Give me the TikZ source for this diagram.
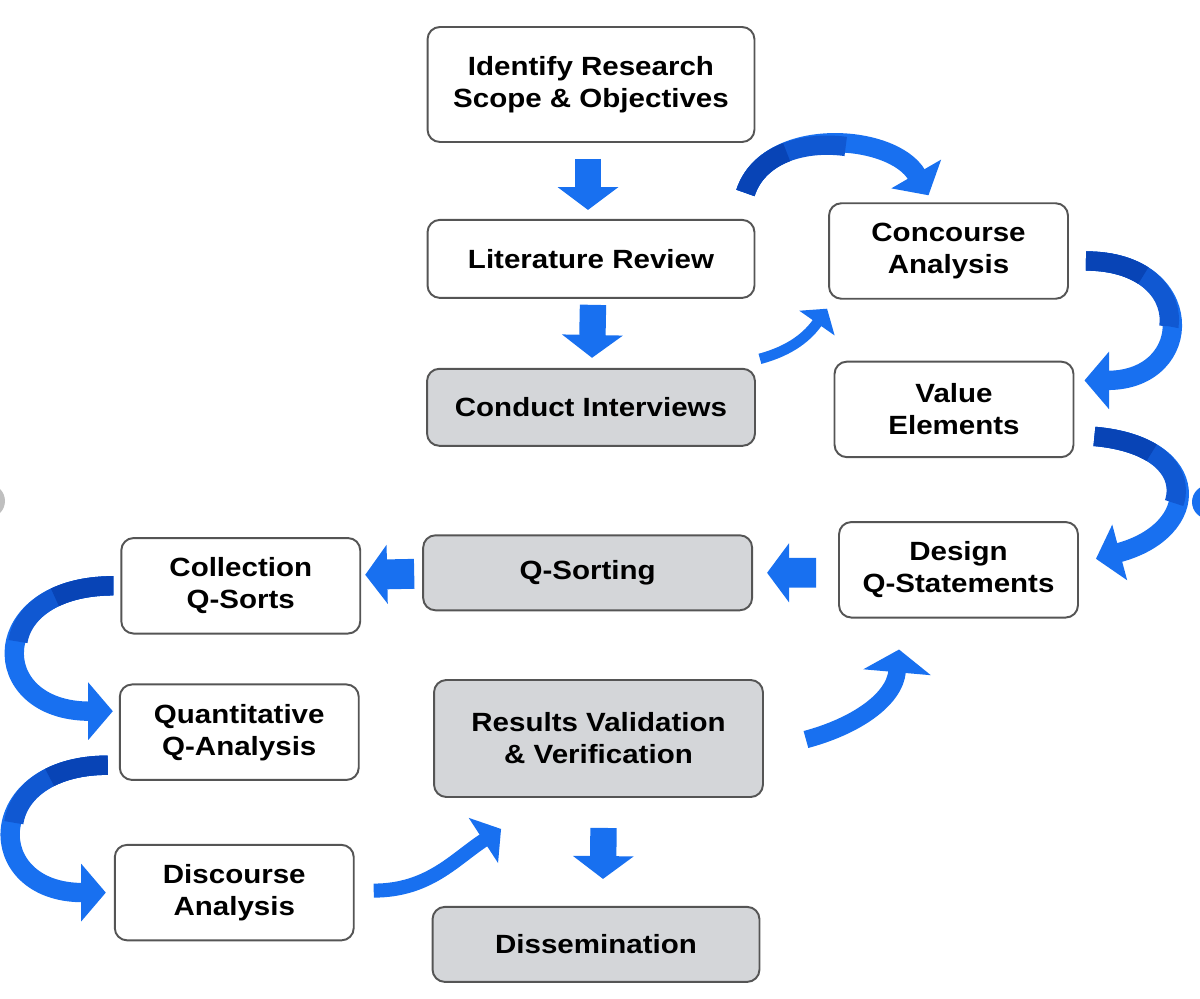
\documentclass[tikz,border=0pt]{standalone}
\usepackage{fontspec}
\setmainfont{Liberation Sans}[FakeStretch=1.12]
\usetikzlibrary{arrows.meta,positioning}
\definecolor{qblue}{RGB}{24,112,240}
\definecolor{qmid}{RGB}{16,88,210}
\definecolor{qdark}{RGB}{8,68,182}
\definecolor{qline}{RGB}{85,85,85}
\definecolor{qgrey}{RGB}{212,214,217}

\begin{document}
\begin{tikzpicture}[x=0.02cm, y=0.02cm,
    box/.style={draw=qline, line width=1.1pt, rounded corners=7pt, fill=white, align=center, inner sep=2pt,
        font=\fontsize{15}{18.2}\selectfont\bfseries},
    midbox/.style={box, minimum width=6.54cm},
    sidebox/.style={box, minimum width=4.78cm, minimum height=1.91cm},
    greybox/.style={fill=qgrey},
    dropar/.style={qblue, line width=15pt, -{Triangle[width=34pt, length=13pt]}},
    sidear/.style={qblue, line width=17pt, -{Triangle[width=33pt, length=12.5pt]}},
    swoop/.style={qblue, line width=10pt, -{Triangle[width=38pt, length=13pt]}},
    looparrow/.style={swoop, line width=11pt, -{Triangle[width=32pt, length=14pt]},
        postaction={draw=qmid, -, dash pattern=on 2.4cm off 40cm},
        postaction={draw=qdark, -, dash pattern=on 1.2cm off 40cm}}]
    \useasboundingbox (0,0) rectangle (1200,998);
    \fill[black!25] (-12,497) circle (17);
    \fill[qblue] (1209,496) circle (17);
    \node[midbox, minimum height=2.3cm] (idr) at (591,913.5) {Identify Research\\Scope \& Objectives};
    \node[midbox, minimum height=1.56cm, below=1.52cm of idr] (lit) {Literature Review};
    \node[midbox, greybox, minimum height=1.54cm, minimum width=6.56cm, below=1.38cm of lit] (cin) {Conduct Interviews};
    \node[sidebox] (con) at (948.5,747) {Concourse\\Analysis};
    \node[sidebox, below=1.22cm of con, xshift=0.11cm] (val) {Value\\Elements};
    \node[sidebox, below=1.26cm of val, xshift=0.09cm] (dqs) {Design\\Q-Statements};
    \node[midbox, greybox, minimum height=1.5cm, minimum width=6.58cm, left=1.7cm of dqs, yshift=-0.06cm] (qso) {Q-Sorting};
    \node[sidebox, left=1.22cm of qso, yshift=-0.26cm] (col) {Collection\\Q-Sorts};
    \node[sidebox, below=0.98cm of col, xshift=-0.03cm] (qan) {Quantitative\\Q-Analysis};
    \node[sidebox, below=1.26cm of qan, xshift=-0.1cm] (dis) {Discourse\\Analysis};
    \node[midbox, greybox, minimum height=2.34cm, minimum width=6.58cm] (rvv) at (598.5,259.5) {Results Validation\\\& Verification};
    \node[midbox, greybox, minimum height=1.5cm, below=2.16cm of rvv, xshift=-0.05cm] (dsm) {Dissemination};
    \draw[dropar] ([shift={(-3,-16)}]idr.south) -- ([shift={(-3,9)}]lit.north);
    \draw[dropar] ([shift={(2,-6)}]lit.south) -- ([shift={(1,10)}]cin.north);
    \draw[dropar] ([shift={(5,-30)}]rvv.south) -- ([shift={(7,27)}]dsm.north);
    \draw[sidear] ([shift={(-22,-3)}]dqs.west) -- ([xshift=0.28cm]qso.east);
    \draw[sidear] ([shift={(-8,-1)}]qso.west) -- ([shift={(4,11)}]col.east);
    \draw[looparrow] ([shift={(-10,26)}]lit.north east) to[out=72, in=120] ([shift={(-20,7)}]con.north);
    \draw[swoop, line width=6pt, -{Triangle[width=24pt, length=10pt]}] ([shift={(4,9)}]cin.north east) to[out=15, in=235] ([shift={(-1,-9)}]con.south west);
    \draw[looparrow] ([shift={(17,-10)}]con.east) to[out=0, in=0, looseness=2.4] ([shift={(10,29)}]val.east);
    \draw[looparrow] ([shift={(20,-27)}]val.east) to[out=-5, in=15, looseness=2.3] ([shift={(17,11)}]dqs.east);
    \draw[swoop] ([shift={(42,-1)}]rvv.east) to[out=15, in=265] ([shift={(61,-31)}]dqs.south west);
    \draw[swoop, line width=8pt, -{Triangle[width=30pt, length=12pt]}] ([shift={(19,2)}]dis.east) to[out=0, in=213] ([shift={(68,-31)}]rvv.south west);
    \draw[looparrow] ([shift={(-7,0)}]col.west) to[out=180, in=180, looseness=2.6] ([shift={(-6,21)}]qan.west);
    \draw[looparrow] ([shift={(-11,-33)}]qan.west) to[out=180, in=180, looseness=2.5] ([shift={(-8,0)}]dis.west);
\end{tikzpicture}
\end{document}
